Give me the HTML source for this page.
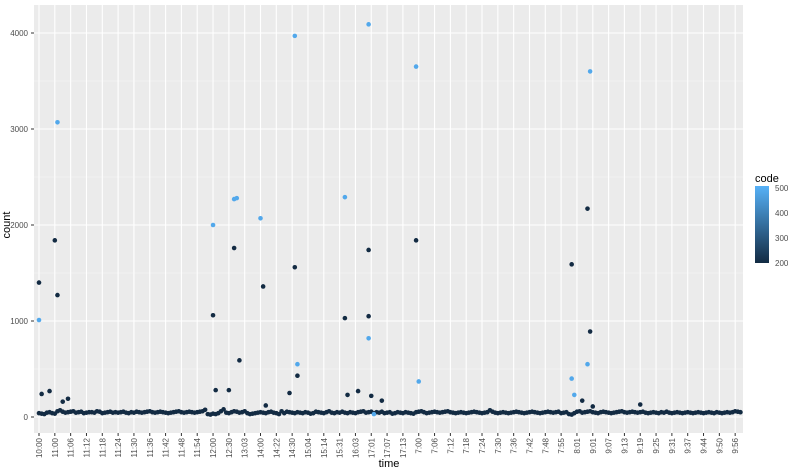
<!DOCTYPE html>
<html><head><meta charset="utf-8"><style>
body{margin:0;background:#fff;font-family:"Liberation Sans",sans-serif}
svg{display:block}
</style></head><body>
<svg id="chart" width="800" height="473" xmlns="http://www.w3.org/2000/svg">
<rect x="34" y="5" width="709" height="428" fill="#ebebeb"/>
<g id="grid"></g><g id="pts"></g><g id="axes" font-size="8" fill="#4d4d4d"></g>
<text x="10" y="225" transform="rotate(-90 10 225)" text-anchor="middle" font-size="11" fill="#000">count</text>
<text x="389" y="467" text-anchor="middle" font-size="11" fill="#000">time</text>
<g>
<text x="755" y="182" font-size="11" fill="#000">code</text>
<defs><linearGradient id="lg" x1="0" y1="1" x2="0" y2="0"><stop offset="0" stop-color="#132B43"/><stop offset="1" stop-color="#56B1F7"/></linearGradient></defs>
<rect x="755" y="186" width="14" height="77" fill="url(#lg)"/>
<g font-size="8" fill="#4d4d4d">
<text x="775" y="191">500</text><text x="775" y="216">400</text><text x="775" y="241">300</text><text x="775" y="266">200</text>
</g></g>
</svg>
<script>
const tickLabels=["10:00","11:00","11:06","11:12","11:18","11:24","11:30","11:36","11:42","11:48","11:54","12:00","12:30","13:03","14:00","14:22","14:30","15:04","15:14","15:31","16:03","17:01","17:07","17:13","7:00","7:06","7:12","7:18","7:24","7:30","7:36","7:42","7:48","7:55","8:01","9:01","9:07","9:13","9:19","9:25","9:31","9:37","9:44","9:50","9:56"];
const yTicks=[0,1000,2000,3000,4000];
const baseCounts=[40,35,30,45,50,40,35,60,70,55,45,50,55,60,45,50,55,40,45,50,
50,45,60,55,40,45,50,55,45,50,45,50,55,45,40,50,45,55,50,45,
50,55,60,50,45,50,55,50,45,40,45,50,55,60,50,45,50,55,50,45,
50,55,60,75,30,25,35,30,40,60,80,45,40,50,60,55,45,50,60,40,
30,35,40,45,50,45,40,50,55,45,40,30,60,40,55,50,45,40,50,45,
40,50,45,35,40,55,50,45,40,50,60,45,40,50,45,55,45,40,50,45,
40,50,55,60,45,50,55,40,50,45,55,40,45,50,35,40,50,45,40,50,
45,40,35,50,55,60,50,40,45,50,55,50,45,50,55,60,50,45,40,45,
50,45,40,45,50,55,50,45,40,45,50,70,55,45,40,45,50,45,40,45,
50,55,50,45,40,45,50,55,50,45,40,45,50,55,50,45,50,55,40,45,
50,30,25,40,55,60,45,50,55,60,50,45,40,50,55,50,45,40,45,50,
55,60,50,45,50,55,50,45,50,55,45,40,45,50,45,40,50,45,55,45,
40,45,50,45,40,45,50,45,40,45,50,45,40,45,50,45,40,50,45,40,
45,50,45,50,60,55,50];
const extraIdx=[0,0,1,4,6,7,7,9,11,66,66,67,72,74,75,74,76,84,85,86,95,97,97,98,98,116,116,117,121,125,125,125,125,126,127,130,143,143,144,202,202,203,206,208,209,208,209,210,228];
const extraCounts=[1400,1010,240,270,1840,1270,3070,160,190,1060,2000,280,280,2270,2280,1760,590,2070,1360,120,250,3970,1560,550,430,2290,1030,230,270,1740,4090,1050,820,220,30,170,3650,1840,370,1590,400,230,170,2170,3600,550,890,110,130];
const extraCodes=[200,480,200,200,200,200,480,200,200,200,480,200,200,480,480,200,200,480,200,200,200,480,200,480,200,480,200,200,200,200,480,200,480,200,480,200,480,200,480,200,480,480,200,200,480,480,200,200,200];
const X0=39,STEP=2.637,Y0=417,YS=0.096;
const xs=i=>X0+i*STEP, ys=v=>Y0-v*YS;
const NS="http://www.w3.org/2000/svg";
const grid=document.getElementById('grid'),axes=document.getElementById('axes'),pts=document.getElementById('pts');
function col(c){const t=Math.max(0,Math.min(1,(c-200)/300));const a=[0x13,0x2B,0x43],b=[0x56,0xB1,0xF7];return `rgb(${a.map((v,k)=>Math.round(v+(b[k]-v)*t)).join(',')})`;}
[500,1500,2500,3500].forEach(v=>{const l=document.createElementNS(NS,'line');l.setAttribute('x1',34);l.setAttribute('x2',743);l.setAttribute('y1',ys(v));l.setAttribute('y2',ys(v));l.setAttribute('stroke','#f5f5f5');l.setAttribute('stroke-width','0.6');


grid.appendChild(l);});
yTicks.forEach(v=>{const l=document.createElementNS(NS,'line');l.setAttribute('x1',34);l.setAttribute('x2',743);l.setAttribute('y1',ys(v));l.setAttribute('y2',ys(v));l.setAttribute('stroke','#fff');l.setAttribute('stroke-width','1.1');


grid.appendChild(l);
const t=document.createElementNS(NS,'text');t.setAttribute('x',28);t.setAttribute('y',ys(v)+3);t.setAttribute('text-anchor','end');t.textContent=v;


axes.appendChild(t);
const k=document.createElementNS(NS,'line');k.setAttribute('x1',31);k.setAttribute('x2',34);k.setAttribute('y1',ys(v));k.setAttribute('y2',ys(v));k.setAttribute('stroke','#333');axes.appendChild(k);});
tickLabels.forEach((s,j)=>{const x=xs(j*6);const l=document.createElementNS(NS,'line');l.setAttribute('x1',x);l.setAttribute('x2',x);l.setAttribute('y1',5);l.setAttribute('y2',433);l.setAttribute('stroke','#fff');l.setAttribute('stroke-width','1.1');


grid.appendChild(l);
const k=document.createElementNS(NS,'line');k.setAttribute('x1',x);k.setAttribute('x2',x);k.setAttribute('y1',433);k.setAttribute('y2',436);k.setAttribute('stroke','#333');axes.appendChild(k);
const t=document.createElementNS(NS,'text');t.setAttribute('transform',`translate(${x+3},438) rotate(-90)`);t.setAttribute('text-anchor','end');t.textContent=s;


axes.appendChild(t);});
function dot(i,v,c){const p=document.createElementNS(NS,'circle');p.setAttribute('cx',xs(i));p.setAttribute('cy',ys(v));p.setAttribute('r',2.3);p.setAttribute('fill',col(c));


pts.appendChild(p);}
baseCounts.forEach((v,i)=>dot(i,v,200));
extraIdx.forEach((i,k)=>dot(i,extraCounts[k],extraCodes[k]));
</script>
</body></html>
